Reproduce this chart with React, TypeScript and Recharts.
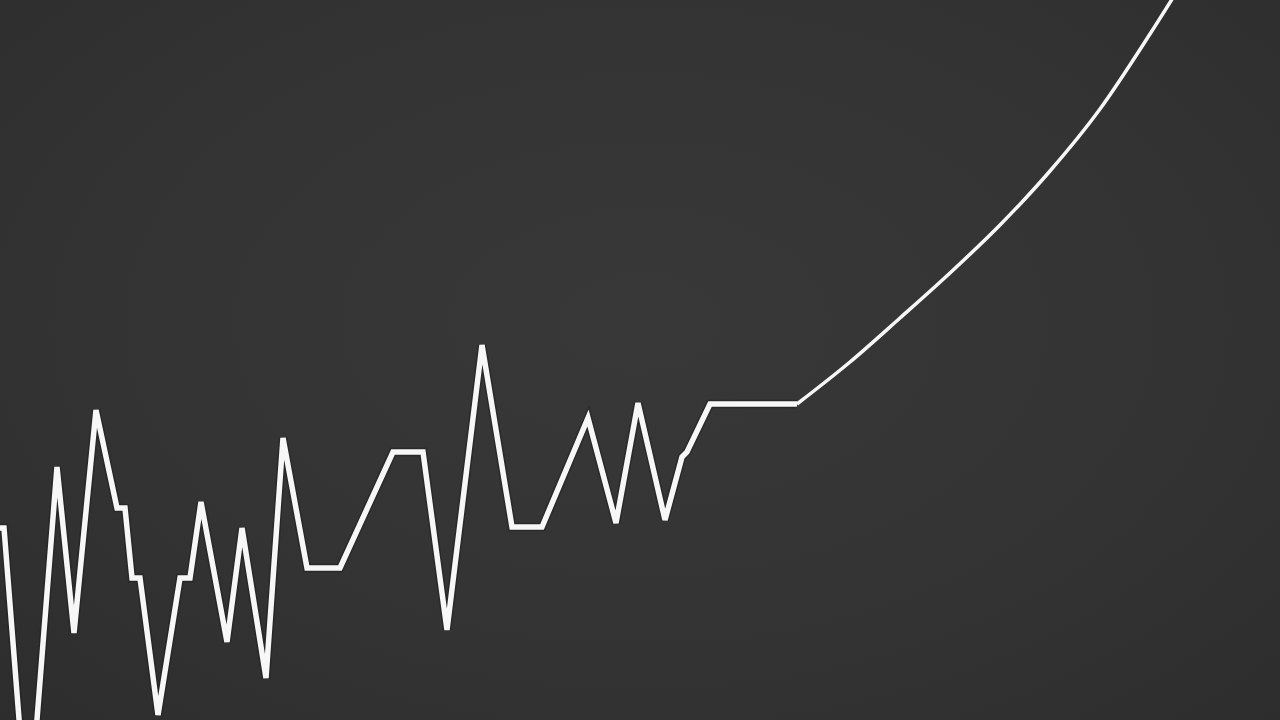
import React from "react";
import { LineChart, Line, XAxis, YAxis } from "recharts";

// Horizontal positions (0..1280 scale) and heights (0..720 scale, measured from the bottom)
const jaggedX = [0, 4, 28, 57, 74, 96, 117, 125, 132, 140, 158, 180, 190, 201, 227, 242, 266, 283, 307, 340, 393, 423, 447, 482, 512, 542, 588, 616, 638, 665, 682, 687, 710, 797];
const jaggedV = [192, 192, -113, 253, 87, 310, 212, 212, 142, 142, 5, 142, 142, 218, 78, 192, 42, 282, 152, 152, 268, 268, 90, 375, 193, 193, 302, 197, 317, 200, 263, 268, 316, 316];

const curveX = [797, 850, 900, 950, 1000, 1050, 1100, 1150, 1200];
const curveV = [316, 358, 402, 447, 495, 549, 611, 686, 766];

const jaggedData = jaggedX.map((x, i) => ({ x, v: jaggedV[i] }));
const curveData = curveX.map((x, i) => ({ x, v: curveV[i] }));

export default function App() {
  return (
    <div
      style={{
        position: "absolute",
        left: 0,
        top: 0,
        width: 1280,
        height: 720,
        overflow: "hidden",
        background: "radial-gradient(ellipse at 50% 45%, #383838 0%, #333333 60%, #2d2d2d 100%)",
      }}
    >
      <LineChart width={1280} height={720} margin={{ top: 0, right: 0, bottom: 0, left: 0 }}>
        <XAxis dataKey="x" type="number" domain={[0, 1280]} allowDataOverflow hide />
        <YAxis type="number" domain={[0, 720]} allowDataOverflow hide />
        <Line
          data={jaggedData}
          dataKey="v"
          type="linear"
          stroke="#1c1c1c"
          strokeOpacity={0.45}
          strokeWidth={8.5}
          strokeLinejoin="miter"
          dot={false}
          activeDot={false}
          isAnimationActive={false}
        />
        <Line
          data={jaggedData}
          dataKey="v"
          type="linear"
          stroke="#f7f7f7"
          strokeWidth={5.5}
          strokeLinejoin="miter"
          dot={false}
          activeDot={false}
          isAnimationActive={false}
        />
        <Line
          data={curveData}
          dataKey="v"
          type="monotone"
          stroke="#f7f7f7"
          strokeWidth={3.5}
          dot={false}
          activeDot={false}
          isAnimationActive={false}
        />
      </LineChart>
    </div>
  );
}
